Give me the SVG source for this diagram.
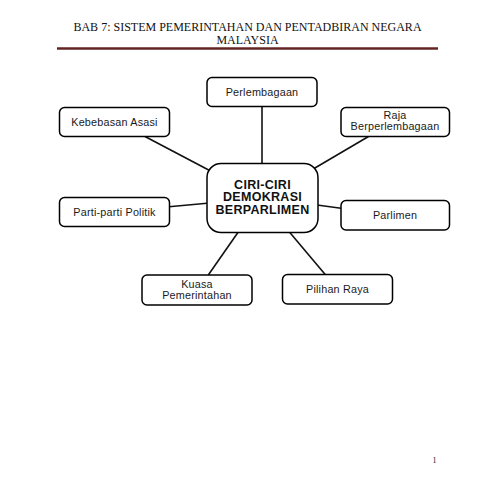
<svg xmlns="http://www.w3.org/2000/svg" width="495" height="495" viewBox="0 0 495 495">
<style>
.box{fill:#fff;stroke:#000;stroke-width:1.5}
.lbl{font-family:"Liberation Sans",Arial,sans-serif;font-size:10.8px;letter-spacing:0.2px;fill:#1a1a1a;text-anchor:middle}
.hd{font-family:"Liberation Serif","Times New Roman",serif;font-size:12px;fill:#111;text-anchor:middle}
.ctr{font-family:"Liberation Sans",Arial,sans-serif;font-size:12.5px;letter-spacing:0.3px;font-weight:bold;fill:#111;text-anchor:middle}
#connectors line{stroke:#111;stroke-width:1.6}
</style>
<rect width="495" height="495" fill="#fff"/>
<g id="header">
<text class="hd" x="247.5" y="31">BAB 7: SISTEM PEMERINTAHAN DAN PENTADBIRAN NEGARA</text>
<text class="hd" x="247.5" y="43.5">MALAYSIA</text>
<line x1="57" y1="48.5" x2="438" y2="48.5" stroke="#622423" stroke-width="2.5"/>
</g>
<g id="connectors">
<line x1="262" y1="106.5" x2="262" y2="164"/>
<line x1="145" y1="136.5" x2="221" y2="176.5"/>
<line x1="368.5" y1="136.5" x2="303" y2="175"/>
<line x1="169" y1="206.7" x2="207" y2="203.3"/>
<line x1="317" y1="205" x2="341" y2="208.3"/>
<line x1="240" y1="229.5" x2="208.3" y2="275"/>
<line x1="287.3" y1="229.5" x2="325" y2="274.3"/>
</g>
<g id="centre">
<rect class="box" x="207" y="163.5" width="111" height="69" rx="14" stroke-width="2"/>
<text class="ctr" x="262.5" y="188.5">CIRI-CIRI</text>
<text class="ctr" x="262.5" y="201">DEMOKRASI</text>
<text class="ctr" x="262.5" y="213.5">BERPARLIMEN</text>
</g>
<g id="perlembagaan">
<rect class="box" x="207" y="77.5" width="110" height="29" rx="5"/>
<text class="lbl" x="262" y="95.5">Perlembagaan</text>
</g>
<g id="kebebasan">
<rect class="box" x="59.5" y="107.5" width="110" height="29" rx="5"/>
<text class="lbl" x="114.5" y="125.5">Kebebasan Asasi</text>
</g>
<g id="raja">
<rect class="box" x="341" y="107.5" width="108.5" height="29" rx="5"/>
<text class="lbl" x="395" y="118.5">Raja</text>
<text class="lbl" x="395" y="130">Berperlembagaan</text>
</g>
<g id="parti">
<rect class="box" x="59.5" y="197.5" width="110" height="29" rx="5"/>
<text class="lbl" x="114.5" y="215.5">Parti-parti Politik</text>
</g>
<g id="parlimen">
<rect class="box" x="341" y="200.5" width="108.5" height="29.5" rx="5"/>
<text class="lbl" x="395" y="218.5">Parlimen</text>
</g>
<g id="kuasa">
<rect class="box" x="142" y="275" width="110" height="30" rx="5"/>
<text class="lbl" x="197" y="287.5">Kuasa</text>
<text class="lbl" x="197" y="299">Pemerintahan</text>
</g>
<g id="pilihan">
<rect class="box" x="282.5" y="274.5" width="110" height="29.5" rx="5"/>
<text class="lbl" x="337.5" y="292.5">Pilihan Raya</text>
</g>
<text x="434.5" y="463" font-family="'Liberation Serif',serif" font-size="8" fill="#222" text-anchor="middle">1</text>
</svg>
